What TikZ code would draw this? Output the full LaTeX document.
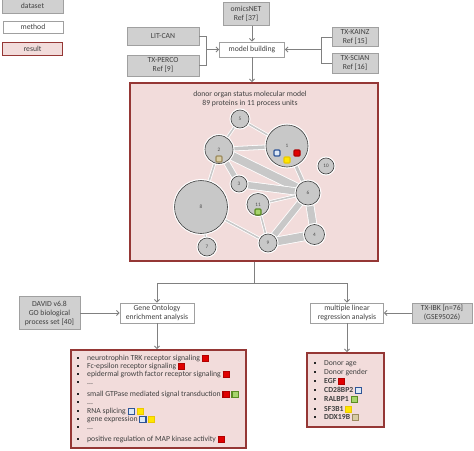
\documentclass[tikz,border=0pt]{standalone}
\usepackage{fontspec}
\setmainfont{Carlito}
\usetikzlibrary{arrows.meta}

\definecolor{dsfill}{HTML}{D0D0D0}
\definecolor{dsline}{HTML}{A0A0A0}
\definecolor{resfill}{HTML}{F2DCDB}
\definecolor{resline}{HTML}{953735}
\definecolor{txtgray}{HTML}{404040}
\definecolor{flowgray}{HTML}{808080}
\definecolor{unitgray}{HTML}{C8C8C8}
\definecolor{mkred}{HTML}{E00000}
\definecolor{mkreddark}{HTML}{B00000}
\definecolor{mkblue}{HTML}{2E5597}
\definecolor{mkbluein}{HTML}{DDE8F5}
\definecolor{mkgreen}{HTML}{5B8C23}
\definecolor{mkgreenin}{HTML}{A7D46C}
\definecolor{mkyel}{HTML}{FFE600}
\definecolor{mkyeldark}{HTML}{EBC800}
\definecolor{mktan}{HTML}{9C8B5E}
\definecolor{mktanin}{HTML}{D8CCA4}

\pgfdeclarelayer{back}
\pgfdeclarelayer{links}
\pgfsetlayers{back,links,main}

\newcommand{\pmk}[2]{{\fboxsep=0.7pt\fboxrule=1.1pt\raisebox{0.1pt}{\fcolorbox{#1}{#2}{\rule{0pt}{3.6pt}\rule{3.6pt}{0pt}}}}}

\tikzset{
  >={Straight Barb[length=2.5pt,width=5pt]},
  box/.style={rectangle, inner sep=1pt, align=center, text=txtgray,
    font=\fontsize{7.7}{9}\selectfont},
  dataset/.style={box, fill=dsfill, draw=dsline, line width=0.8pt},
  method/.style={box, fill=white, draw=dsline, line width=0.8pt},
  result/.style={box, fill=resfill, draw=resline, line width=1.8pt},
  flow/.style={draw=flowgray, line width=0.9pt},
  unit/.style={circle, minimum size=#1, inner sep=0pt, fill=unitgray,
    draw=black!75, line width=0.6pt,
    preaction={draw=white, line width=3pt},
    font=\fontsize{5.2}{6}\selectfont, text=black!70},
  tie/.style={draw=white, line width=0.8pt, double=unitgray, double distance=#1},
  mk/.style 2 args={rectangle, minimum size=6pt, inner sep=0pt,
    rounded corners=1pt, draw=#1, fill=#2, line width=1.1pt},
  item/.style={anchor=west, inner sep=0pt, text height=5.5pt, text depth=1.5pt,
    text=txtgray, font=\fontsize{7.7}{9}\selectfont},
  bul/.style={rectangle, fill=black!85, minimum size=2.2pt, inner sep=0pt},
}

\begin{document}
\begin{tikzpicture}[x=1pt,y=-1pt]
  \useasboundingbox
    (0,0)
    rectangle
    (474,450);

  % legend
  \node[dataset, minimum width=61pt, minimum height=14pt] (legdata) at (32.5,6) {dataset};
  \node[method, minimum width=60pt, minimum height=12pt] (legmethod) at (33,27) {method};
  \node[result, minimum width=60pt, minimum height=13pt] (legresult) at (32.5,49) {result};

  % model building
  \node[dataset, minimum width=46pt, minimum height=23pt] (omics) at (246,14) {omicsNET\\Ref [37]};
  \node[dataset, minimum width=72pt, minimum height=18pt] (litcan) at (163,36) {LIT-CAN};
  \node[dataset, minimum width=72pt, minimum height=21pt] (perco) at (163,65.5) {TX-PERCO\\Ref [9]};
  \node[method, minimum width=65pt, minimum height=15pt] (model) at (252,49.5) {model building};
  \node[dataset, minimum width=46pt, minimum height=19pt] (kainz) at (355,37) {TX-KAINZ\\Ref [15]};
  \node[dataset, minimum width=46pt, minimum height=20pt] (scian) at (355,63) {TX-SCIAN\\Ref [16]};

  \draw[flow]
    (litcan.east)
    -- ++(7,0) coordinate (lbr)
    |-
    (perco.east);
  \draw[flow,->]
    (lbr |- model.west)
    --
    (model.west);
  \draw[flow]
    (kainz.west)
    -- ++(-10,0) coordinate (rbr)
    |-
    (scian.west);
  \draw[flow,->]
    (rbr |- model.east)
    --
    (model.east);
  \draw[flow,->]
    (model.north |- omics.south)
    --
    (model.north);

  % molecular model
  \begin{pgfonlayer}{back}
    \node[result, minimum width=248pt, minimum height=178pt] (net) at (254,172) {};
  \end{pgfonlayer}
  \draw[flow,->]
    (model.south)
    --
    (model.south |- net.north);
  \node[box] (nettitle) at (250,98.5) {donor organ status molecular model\\89 proteins in 11 process units};

  \node[unit=42pt] (u1) at (287,146) {1};
  \node[unit=28pt] (u2) at (219,149.5) {2};
  \node[unit=16pt] (u3) at (239,184) {3};
  \node[unit=20pt] (u4) at (314.5,234.5) {4};
  \node[unit=18pt] (u5) at (240,119) {5};
  \node[unit=24pt] (u6) at (308,193) {6};
  \node[unit=18pt] (u7) at (207,247) {7};
  \node[unit=53pt] (u8) at (201,207) {8};
  \node[unit=18pt] (u9) at (268,243) {9};
  \node[unit=16pt] (u10) at (326,166) {10};
  \node[unit=22pt] (u11) at (258,204.5) {11};

  \begin{pgfonlayer}{links}
    \foreach \a/\b/\w in {u5/u2/1.5pt, u5/u1/1.5pt, u2/u1/3.5pt, u2/u6/8pt,
        u2/u3/5pt, u2/u8/1.5pt, u3/u6/6.5pt, u1/u6/3pt, u11/u6/1.5pt,
        u11/u9/1.5pt, u8/u9/1.5pt, u8/u7/1.5pt, u6/u9/6pt, u6/u4/7pt, u4/u9/8pt}
      \draw[tie=\w] (\a) -- (\b);
  \end{pgfonlayer}

  \node[mk={mkblue}{mkbluein}] (s1b) at (277,153) {};
  \node[mk={mkreddark}{mkred}] (s1r) at (297,153) {};
  \node[mk={mkyeldark}{mkyel}] (s1y) at (287,160) {};
  \node[mk={mktan}{mktanin}] (s2t) at (219,159) {};
  \node[mk={mkgreen}{mkgreenin}] (s11g) at (258,212) {};

  % analyses
  \draw[flow]
    (net.south)
    -- ++(0,22) coordinate (split);
  \node[method, minimum width=74pt, minimum height=20pt] (go) at (157,313) {Gene Ontology\\enrichment analysis};
  \node[dataset, minimum width=61pt, minimum height=33pt] (david) at (49.5,313) {DAVID v6.8\\GO biological\\process set [40]};
  \node[method, minimum width=73pt, minimum height=20pt] (mlr) at (347,313) {multiple linear\\regression analysis};
  \node[dataset, minimum width=60pt, minimum height=20pt] (ibk) at (442,313) {TX-IBK [n=76]\\(GSE95026)};
  \draw[flow,->]
    (split)
    -|
    (go.north);
  \draw[flow,->]
    (split)
    -|
    (mlr.north);
  \draw[flow,->]
    (david.east)
    --
    (go.west);
  \draw[flow,->]
    (ibk.west)
    --
    (mlr.east);

  % results
  \node[result, minimum width=175pt, minimum height=98pt] (golist) at (158.5,399) {};
  \node[result, minimum width=77pt, minimum height=74pt] (mlrlist) at (345.5,390) {};
  \draw[flow,->]
    (go.south)
    --
    (go.south |- golist.north);
  \draw[flow,->]
    (mlr.south)
    --
    (mlr.south |- mlrlist.north);

  \foreach \y/\txt [count=\i] in {
      358/{neurotrophin TRK receptor signaling \pmk{mkreddark}{mkred}},
      366/{Fc-epsilon receptor signaling \pmk{mkreddark}{mkred}},
      374/{epidermal growth factor receptor signaling \pmk{mkreddark}{mkred}},
      382/{...},
      394/{small GTPase mediated signal transduction \pmk{mkreddark}{mkred} \pmk{mkgreen}{mkgreenin}},
      402/{...},
      411/{RNA splicing \pmk{mkblue}{mkbluein} \pmk{mkyeldark}{mkyel}},
      419/{gene expression \pmk{mkblue}{mkbluein} \pmk{mkyeldark}{mkyel}},
      427/{...},
      439/{positive regulation of MAP kinase activity \pmk{mkreddark}{mkred}}} {
    \node[bul] (gb\i) at (78,\y) {};
    \node[item] (gi\i) at (87,\y) {\txt};
  }

  \foreach \y/\txt [count=\i] in {
      363/{Donor age},
      372/{Donor gender},
      381/{\textbf{EGF} \pmk{mkreddark}{mkred}},
      390/{\textbf{CD28BP2} \pmk{mkblue}{mkbluein}},
      399/{\textbf{RALBP1} \pmk{mkgreen}{mkgreenin}},
      409/{\textbf{SF3B1} \pmk{mkyeldark}{mkyel}},
      417/{\textbf{DDX19B} \pmk{mktan}{mktanin}}} {
    \node[bul] (rb\i) at (315,\y) {};
    \node[item] (ri\i) at (324,\y) {\txt};
  }
\end{tikzpicture}
\end{document}
